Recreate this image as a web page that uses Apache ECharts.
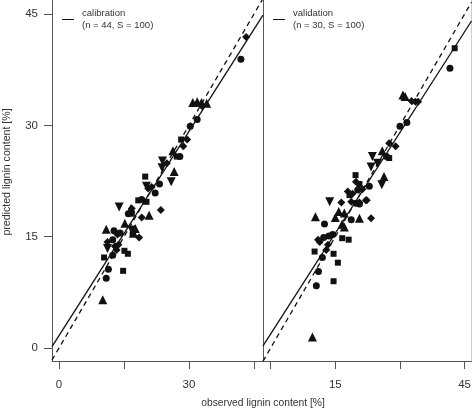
<!DOCTYPE html>
<html>
<head>
<meta charset="utf-8">
<script src="https://cdn.jsdelivr.net/npm/echarts@6/dist/echarts.min.js"></script>
<style>
html, body { margin: 0; padding: 0; background: #fff; }
#main { width: 474px; height: 413px; }
</style>
</head>
<body>
<div id="main"></div>
<script>
// ticks and labels
var axisTicks = [0, 15, 30, 45];
var calXLabels = [0, 30];
var valXLabels = [15, 45];
var yLabels = [0, 15, 30, 45];

// axis ranges
var yRange = [-1.75, 46.9];
var calXRange = [-1.62, 47.1];
var valXRange = [-1.77, 46.6];

// regression lines: [intercept, slope]
var calFit = [1.67, 0.917];
var valFit = [1.9, 0.905];

var panelNames = ['calibration', 'validation'];
var panelNotes = ['(n = 44, S = 100)', '(n = 30, S = 100)'];
var xTitle = 'observed lignin content [%]';
var yTitle = 'predicted lignin content [%]';

// calibration points (observed, predicted), one array per marker shape
var calCircle = [[42.0,38.9],[30.3,29.9],[31.9,30.8],[27.9,25.8],[23.2,22.1],[22.2,20.9],[19.1,20.0],[16.0,18.1],[12.7,15.8],[14.1,15.5],[12.4,14.6],[12.4,12.5],[11.4,10.6],[10.9,9.4]];
var calSquare = [[28.2,28.1],[27.2,25.8],[19.9,23.1],[18.3,19.9],[16.8,18.1],[17.0,15.3],[15.1,13.1],[15.9,12.7],[10.4,12.2],[14.8,10.4],[20.2,19.7]];
var calTriUp = [[30.9,33.1],[31.9,33.2],[32.9,33.1],[34.1,33.0],[26.3,26.6],[26.6,23.8],[16.6,18.8],[20.8,17.9],[15.2,16.8],[10.9,16.0],[17.6,16.1],[17.2,15.5],[10.1,6.5]];
var calTriDown = [[23.9,25.2],[23.8,24.3],[25.9,22.4],[20.2,21.8],[13.9,19.0],[11.2,13.4],[16.8,15.9]];
var calDiamond = [[43.2,41.9],[33.0,32.6],[29.6,28.1],[28.7,27.2],[24.9,24.9],[20.6,21.5],[21.4,21.7],[16.8,18.8],[23.5,18.6],[19.1,17.6],[13.5,15.3],[18.5,14.9],[11.2,14.3],[12.9,13.7],[13.3,13.2],[13.7,13.9]];

// validation points
var valCircle = [[41.6,37.7],[30.0,29.9],[31.6,30.4],[26.9,25.8],[22.9,21.8],[20.2,21.3],[19.8,19.5],[20.6,19.4],[18.7,17.3],[12.5,16.7],[14.4,15.3],[13.5,15.1],[12.3,14.9],[12.0,12.2],[11.1,10.3],[10.6,8.4]];
var valSquare = [[42.7,40.4],[27.5,25.6],[19.7,23.3],[20.6,22.1],[18.3,20.6],[16.6,14.8],[18.1,14.6],[10.2,13.0],[14.6,12.7],[15.6,11.5],[14.6,9.0]];
var valTriUp = [[30.7,34.1],[31.2,33.9],[25.9,26.6],[26.3,23.1],[15.8,18.4],[17.1,18.2],[10.4,17.7],[15.0,17.6],[20.6,17.5],[16.6,16.7],[17.1,16.3],[9.7,1.5]];
var valTriDown = [[23.6,25.8],[24.8,24.9],[23.3,24.4],[25.8,22.0],[13.7,19.7]];
var valDiamond = [[32.7,33.3],[33.6,33.2],[34.2,33.2],[27.5,27.6],[29.0,27.2],[19.8,22.4],[21.3,21.4],[17.9,21.1],[19.0,20.8],[22.1,19.9],[16.4,19.6],[18.7,19.7],[20.6,19.6],[22.3,19.9],[23.3,17.5],[11.0,14.6],[11.4,14.3],[13.3,13.9],[12.9,13.2]];

var FONT = 'Liberation Sans';
var AXIS_COLOR = '#555';
var TEXT_COLOR = '#333';
var PT_COLOR = '#111';

var myChart = echarts.init(document.getElementById('main'));

function fitLine(range, fit) {
    return [[range[0], fit[0] + fit[1] * range[0]], [range[1], fit[0] + fit[1] * range[1]]];
}

function xAxisFor(idx, range, labels) {
    return {
        gridIndex: idx, type: 'value', min: range[0], max: range[1],
        axisLine: { onZero: false, lineStyle: { color: AXIS_COLOR, width: 1 } },
        axisTick: { customValues: axisTicks, length: 8, lineStyle: { color: AXIS_COLOR } },
        axisLabel: { customValues: labels, margin: 18, fontSize: 11.5, color: TEXT_COLOR, fontFamily: FONT },
        splitLine: { show: false }
    };
}

function scatter(idx, data, symbol, size, rotate) {
    return {
        type: 'scatter', xAxisIndex: idx, yAxisIndex: idx, data: data,
        symbol: symbol, symbolSize: size, symbolRotate: rotate || 0,
        itemStyle: { color: PT_COLOR, opacity: 1 }, z: 3, silent: true
    };
}

function line(idx, name, data, dashed) {
    return {
        name: name, type: 'line', xAxisIndex: idx, yAxisIndex: idx, showSymbol: false,
        data: data, clip: true, silent: true,
        itemStyle: { color: '#111' },
        lineStyle: { color: '#111', width: 1.3, type: dashed ? [5, 4] : 'solid' }
    };
}

var option = {
    animation: false,
    grid: [
        { left: 52, top: 0, width: 211, height: 361 },
        { left: 263, top: 0, width: 210, height: 361 }
    ],
    xAxis: [
        xAxisFor(0, calXRange, calXLabels),
        xAxisFor(1, valXRange, valXLabels)
    ],
    yAxis: [
        {
            gridIndex: 0, type: 'value', min: yRange[0], max: yRange[1],
            axisLine: { onZero: false, lineStyle: { color: AXIS_COLOR } },
            axisTick: { customValues: axisTicks, length: 8, lineStyle: { color: AXIS_COLOR } },
            axisLabel: { customValues: yLabels, margin: 14, fontSize: 11.5, color: TEXT_COLOR, fontFamily: FONT },
            splitLine: { show: false }
        },
        {
            gridIndex: 1, type: 'value', min: yRange[0], max: yRange[1],
            axisLine: { onZero: false, lineStyle: { color: AXIS_COLOR } },
            axisTick: { show: false }, axisLabel: { show: false }, splitLine: { show: false }
        },
        {
            // light frame on the far right
            gridIndex: 1, type: 'value', position: 'right', min: yRange[0], max: yRange[1],
            axisLine: { show: true, onZero: false, lineStyle: { color: '#ccc' } },
            axisTick: { show: false }, axisLabel: { show: false }, splitLine: { show: false }
        }
    ],
    legend: [0, 1].map(function (i) {
        return {
            data: [panelNames[i]],
            left: i === 0 ? 62 : 273, top: 8, padding: 0,
            icon: 'rect', itemWidth: 12, itemHeight: 1,
            formatter: function (name) { return name + '\n' + panelNotes[i]; },
            textStyle: { fontSize: 9.5, color: TEXT_COLOR, fontFamily: FONT, lineHeight: 11.5, padding: [0, 0, 0, 3] },
            selectedMode: false
        };
    }),
    graphic: [
        {
            type: 'text', x: 263, y: 403,
            style: { text: xTitle, fontSize: 10.3, fill: TEXT_COLOR, fontFamily: FONT, align: 'center', verticalAlign: 'middle' }
        },
        {
            type: 'text', x: 7, y: 172, rotation: Math.PI / 2,
            style: { text: yTitle, fontSize: 10.6, fill: TEXT_COLOR, fontFamily: FONT, align: 'center', verticalAlign: 'middle' }
        }
    ],
    series: [
        line(0, panelNames[0], fitLine(calXRange, calFit), false),
        line(0, '1:1', [[calXRange[0], calXRange[0]], [calXRange[1], calXRange[1]]], true),
        line(1, panelNames[1], fitLine(valXRange, valFit), false),
        line(1, '1:1', [[valXRange[0], valXRange[0]], [valXRange[1], valXRange[1]]], true),
        scatter(0, calCircle, 'circle', 7),
        scatter(0, calSquare, 'rect', 6),
        scatter(0, calTriUp, 'triangle', 9),
        scatter(0, calTriDown, 'triangle', 9, 180),
        scatter(0, calDiamond, 'diamond', 8),
        scatter(1, valCircle, 'circle', 7),
        scatter(1, valSquare, 'rect', 6),
        scatter(1, valTriUp, 'triangle', 9),
        scatter(1, valTriDown, 'triangle', 9, 180),
        scatter(1, valDiamond, 'diamond', 8)
    ]
};
myChart.clear();
myChart.setOption(option);
</script>
</body>
</html>
